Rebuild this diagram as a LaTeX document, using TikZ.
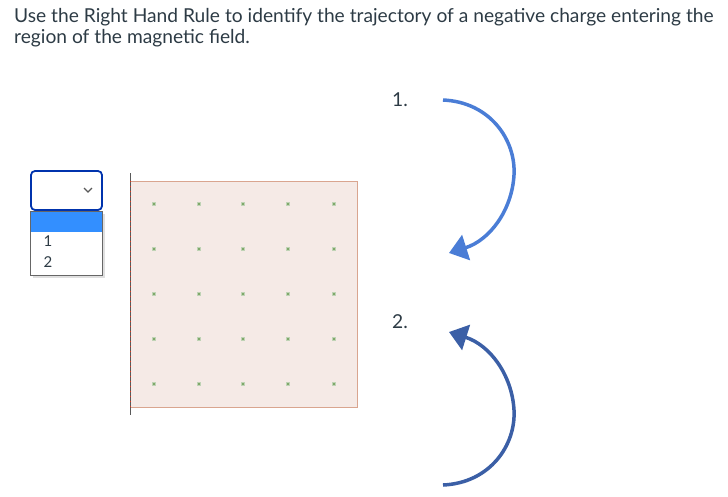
\documentclass[tikz,border=0pt]{standalone}
\usepackage{fontspec}
\setmainfont{Lato}
\usetikzlibrary{arrows.meta,shadows}
\definecolor{txt}{HTML}{2D3B45}
\definecolor{aone}{HTML}{4A7DD6}
\definecolor{atwo}{HTML}{3B5FA6}
\definecolor{fieldbg}{HTML}{F5EAE6}
\definecolor{fieldbd}{HTML}{D9A58F}
\definecolor{dotc}{HTML}{7FA86A}
\begin{document}
\begin{tikzpicture}[x=1pt,y=-1pt,
  lbl/.style={font=\fontsize{19.2}{22}\selectfont,text=txt,inner sep=0,anchor=west},
  dotm/.style={fill=dotc,minimum size=3pt,inner sep=0,draw=dotc!50!white},
  arr/.style={line width=3.5pt,-{Triangle[length=18pt,width=26pt]}}]
\useasboundingbox (0,0) rectangle (728,496);
\node[lbl] (t1) at (14,17) {Use the Right Hand Rule to identify the trajectory of a negative charge entering the};
\node[lbl] (t2) at (14,38) {region of the magnetic field.};
% dropdown
\node[draw=blue!60!black!80!cyan,line width=1.8pt,rounded corners=4pt,minimum width=71pt,minimum height=39pt,inner sep=0] (dd) at (66.5,190.5) {};
\draw[line width=1.2pt,gray!70!black] (84,188) -- (88,192) -- (92,188);
\node[draw=gray!80!black,fill=white,minimum width=72pt,minimum height=64pt,inner sep=0,drop shadow={opacity=0.25}] (lb) at (66,243) {};
\fill[blue!55!cyan!80!white] (30.5,211.5) rectangle (101.5,232);
\node[font=\fontsize{15}{17}\selectfont,text=txt] (o1) at (48,241) {1};
\node[font=\fontsize{15}{17}\selectfont,text=txt] (o2) at (48,262) {2};
% field
\node[draw=fieldbd,fill=fieldbg,minimum width=227pt,minimum height=226pt,inner sep=0,anchor=north west] (fld) at (130,181) {};
\draw[gray!70!black,line width=0.5pt] (130,173) -- (130,415);
\draw[red!60!brown,line width=0.8pt,dash pattern=on 1pt off 4pt] (130,181) -- (130,407);
\foreach \x in {154,199,243,288,334}
  \foreach \y in {204,249,294,339,384}
    \node[dotm] at (\x,\y) {};
% arcs
\node[lbl] (l1) at (392,100) {1.};
\node[lbl] (l2) at (392,322) {2.};
\coordinate (s1) at (443,100);
\coordinate (e1) at (449,253);
\draw[arr,aone] (s1) .. controls (490,102) and (516,140) .. (514,175) .. controls (512,210) and (490,240) .. (e1);
\coordinate (s2) at (443,485);
\coordinate (e2) at (449,332);
\draw[arr,atwo] (s2) .. controls (490,483) and (516,445) .. (514,410) .. controls (512,375) and (490,345) .. (e2);
\end{tikzpicture}
\end{document}
